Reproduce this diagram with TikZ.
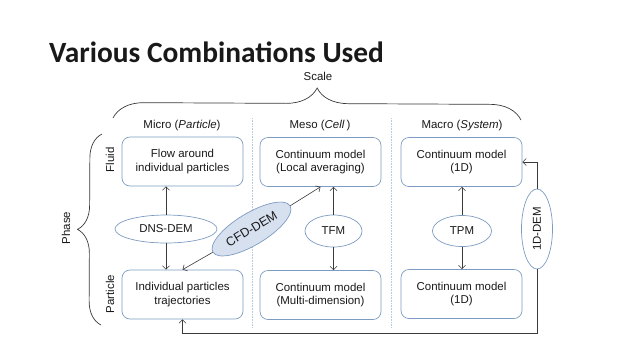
\documentclass[tikz,border=0pt]{standalone}
\usepackage{fontspec}
\setmainfont{Liberation Sans}
\newfontfamily\titlefont{Carlito}
\usetikzlibrary{positioning,arrows.meta,shapes.geometric,decorations.pathreplacing}
\definecolor{boxblue}{HTML}{7D9CC2}
\definecolor{cfdfill}{HTML}{D6E0EF}
\definecolor{sepblue}{HTML}{B5CBE0}
\definecolor{ink}{HTML}{3A3A3A}
\tikzset{
    model/.style={draw=boxblue, rounded corners=8bp, line width=0.7pt, minimum width=121bp, minimum height=49bp, align=center, inner sep=2pt},
    method/.style={ellipse, draw=boxblue, line width=0.7pt, inner sep=0pt},
    link/.style={draw=ink, line width=0.6pt, -{Straight Barb[length=3.5bp,width=7bp]}},
    colhead/.style={inner sep=1pt},
    sep/.style={draw=sepblue, densely dotted, line width=0.6pt},
    brc/.style={draw=ink, line width=0.7pt, decorate}
}

\begin{document}
\begin{tikzpicture}[x=1bp, y=-1bp, font=\fontsize{11.5}{13.5}\selectfont, text=black!90]
    \useasboundingbox (0,0) rectangle (638,359);

    % Title
    \node[anchor=base west, inner sep=0pt, font=\titlefont\bfseries\fontsize{29.5}{34}\selectfont] (title) at (49,62) {Various Combinations Used};

    % Scale and phase
    \node[colhead] (scale) at (318,76) {Scale};
    \draw[brc, decoration={brace, amplitude=31bp}] (113,118) -- (521,120);
    \node[colhead, rotate=90] (phase) at (66,228) {Phase};
    \draw[brc, decoration={brace, amplitude=24bp}] (101,325) -- (102,134);
    \node[colhead, rotate=90] (fluid) at (110,160) {Fluid};
    \node[colhead, rotate=90] (particle) at (110,294) {Particle};

    % Columns
    \node[colhead] (micro) at (182,126) {Micro (\textit{Particle})};
    \node[colhead] (meso) at (320,126) {Meso (\textit{Cell}\,)};
    \node[colhead] (macro) at (462,126) {Macro (\textit{System})};
    \draw[sep] (252,118) -- (252,327);
    \draw[sep] (391,118) -- (391,327);

    % Models
    \node[model] (MiF) at (182.5,161.5) {Flow around\\individual particles};
    \node[model] (MiP) at (182.5,294.5) {Individual particles\\trajectories};
    \node[model] (MeF) at (320.5,162) {Continuum model\\(Local averaging)};
    \node[model] (MeP) at (320.5,295) {Continuum model\\(Multi-dimension)};
    \node[model] (MaF) at (461.5,162) {Continuum model\\(1D)};
    \node[model] (MaP) at (461.5,294) {Continuum model\\(1D)};

    % Methods
    \node[method, minimum width=102bp, minimum height=28bp] (DNS) at (166,229) {DNS-DEM};
    \node[method, minimum width=57bp, minimum height=32bp] (TFM) at (333.5,231) {TFM};
    \node[method, minimum width=59bp, minimum height=31bp] (TPM) at (462,231) {TPM};
    \node[method, minimum width=80bp, minimum height=31bp, rotate=90] (ODEM) at (537,229) {1D-DEM};
    \node[method, fill=cfdfill, minimum width=90bp, minimum height=32bp, rotate=31, font=\fontsize{12.5}{14}\selectfont] (CFD) at (251.5,229) {CFD-DEM};

    % edges
    \draw[link] (DNS.north) -- (DNS.north |- MiF.south);
    \draw[link] (DNS.south) -- (DNS.south |- MiP.north);
    \draw[link] (TFM.north) -- (TFM.north |- MeF.south);
    \draw[link] (TFM.south) -- (TFM.south |- MeP.north);
    \draw[link] (TPM.north) -- (TPM.north |- MaF.south);
    \draw[link] (TPM.south) -- (TPM.south |- MaP.north);
    \draw[link] (CFD.east) -- (MeF.south);
    \draw[link] (CFD.west) -- (MiP.north);
    \draw[link] (ODEM.east) |- (MaF.east);
    \coordinate (back) at (537,333);
    \draw[link] (ODEM.west) -- (back) -| (MiP.south);
\end{tikzpicture}
\end{document}
